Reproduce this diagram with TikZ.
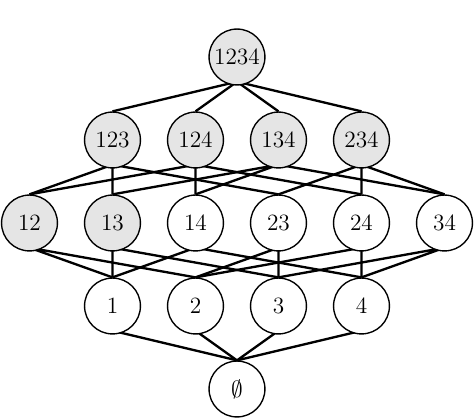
\documentclass[tikz,border=0pt]{standalone}
\usepackage{tikz}
\usetikzlibrary{
    positioning,
    backgrounds
}
\usepackage{amsmath}
\usepackage{amssymb}
\tikzstyle{subset} = [
    circle,
    draw=black,
    line width=0.7pt,
    fill=white,
    minimum size=1.01cm,
    inner sep=0pt,
    font=\large
]
\tikzstyle{marked} = [
    subset,
    fill=black!10
]
\tikzstyle{edge} = [
    line width=1.2pt,
    draw=black
]

\begin{document}
\begin{tikzpicture}
    \useasboundingbox (-4.283,-0.542) rectangle (4.283,7.030);

    % Top
    \node[marked] (s1234) at (0,6) {1234};

    % Three elements
    \node[marked] (s123) at (-2.25,4.5) {123};
    \node[marked] (s124) at (-0.75,4.5) {124};
    \node[marked] (s134) at (0.75,4.5) {134};
    \node[marked] (s234) at (2.25,4.5) {234};

    % Two elements
    \node[marked] (s12) at (-3.75,3) {12};
    \node[marked] (s13) at (-2.25,3) {13};
    \node[subset] (s14) at (-0.75,3) {14};
    \node[subset] (s23) at (0.75,3) {23};
    \node[subset] (s24) at (2.25,3) {24};
    \node[subset] (s34) at (3.75,3) {34};

    % One element
    \node[subset] (s1) at (-2.25,1.5) {1};
    \node[subset] (s2) at (-0.75,1.5) {2};
    \node[subset] (s3) at (0.75,1.5) {3};
    \node[subset] (s4) at (2.25,1.5) {4};

    % Bottom
    \node[subset] (empty) at (0,0) {$\emptyset$};

    % Edges
    \begin{scope}[on background layer]
        \draw[edge] ([yshift=2pt]s1234.south) -- (s123.north)
                    ([yshift=2pt]s1234.south) -- (s124.north)
                    ([yshift=2pt]s1234.south) -- (s134.north)
                    ([yshift=2pt]s1234.south) -- (s234.north);

        \draw[edge] ([yshift=2pt]s123.south) -- (s12.north)
                    ([yshift=2pt]s123.south) -- (s13.north)
                    ([yshift=2pt]s123.south) -- (s23.north);
        \draw[edge] ([yshift=2pt]s124.south) -- (s12.north)
                    ([yshift=2pt]s124.south) -- (s14.north)
                    ([yshift=2pt]s124.south) -- (s24.north);
        \draw[edge] ([yshift=2pt]s134.south) -- (s13.north)
                    ([yshift=2pt]s134.south) -- (s14.north)
                    ([yshift=2pt]s134.south) -- (s34.north);
        \draw[edge] ([yshift=2pt]s234.south) -- (s23.north)
                    ([yshift=2pt]s234.south) -- (s24.north)
                    ([yshift=2pt]s234.south) -- (s34.north);

        \draw[edge] ([yshift=2pt]s12.south) -- (s1.north)
                    ([yshift=2pt]s12.south) -- (s2.north);
        \draw[edge] ([yshift=2pt]s13.south) -- (s1.north)
                    ([yshift=2pt]s13.south) -- (s3.north);
        \draw[edge] ([yshift=2pt]s14.south) -- (s1.north)
                    ([yshift=2pt]s14.south) -- (s4.north);
        \draw[edge] ([yshift=2pt]s23.south) -- (s2.north)
                    ([yshift=2pt]s23.south) -- (s3.north);
        \draw[edge] ([yshift=2pt]s24.south) -- (s2.north)
                    ([yshift=2pt]s24.south) -- (s4.north);
        \draw[edge] ([yshift=2pt]s34.south) -- (s3.north)
                    ([yshift=2pt]s34.south) -- (s4.north);

        \draw[edge] ([yshift=2pt]s1.south) -- (empty.north)
                    ([yshift=2pt]s2.south) -- (empty.north)
                    ([yshift=2pt]s3.south) -- (empty.north)
                    ([yshift=2pt]s4.south) -- (empty.north);
    \end{scope}
\end{tikzpicture}
\end{document}
